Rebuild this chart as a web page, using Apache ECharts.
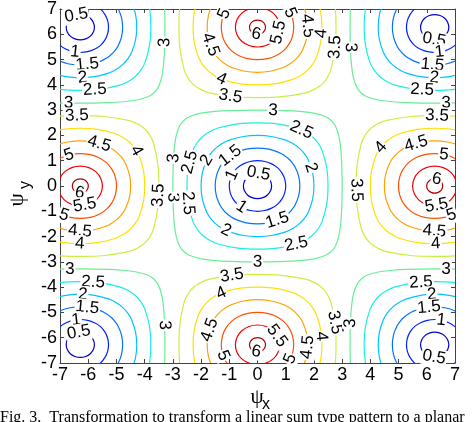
<!DOCTYPE html>
<html>
<head>
<meta charset="utf-8">
<script src="https://cdn.jsdelivr.net/npm/echarts@6/dist/echarts.min.js"></script>
<style>
  html, body { margin: 0; padding: 0; background: #fff; }
  #chart { width: 474px; height: 422px; }
</style>
</head>
<body>
<div id="chart"></div>
<script>
// contour levels and their (jet) line colours
const levels = [0.5, 1, 1.5, 2, 2.5, 3, 3.5, 4, 4.5, 5, 5.5, 6];
const levelColors = ['#0000d0', '#0024ff', '#0074ff', '#00c4ff', '#17f0e0', '#69ee96',
  '#c8f040', '#ffe000', '#ffa200', '#ff5100', '#f00000', '#ad0000'];

// minima (circled by levels 0.5 - 3) and maxima (circled by levels 3.5 - 6)
const lowCentres = [[0, 0], [-6.28, 6.28], [6.28, 6.28], [-6.28, -6.28], [6.28, -6.28]];
const highCentres = [[0, 6.28], [0, -6.28], [-6.28, 0], [6.28, 0]];

// one eighth of every loop, from its axis crossing to the diagonal, relative to its centre
const arc05 = [[0.5, 0], [0.462, 0.191], [0.354, 0.354]];
const arc10 = [[1, 0], [0.968, 0.26], [0.875, 0.5], [0.717, 0.717]];
const arc15 = [[1.5, 0], [1.456, 0.4], [1.332, 0.75], [1.209, 0.95], [1.089, 1.089]];
const arc20 = [[2, 0], [1.958, 0.5], [1.815, 1.0], [1.683, 1.25], [1.49, 1.49]];
const arc25 = [[2.5, 0], [2.457, 0.7], [2.292, 1.4], [2.145, 1.7], [1.949, 1.949]];
const arc30 = [[3, 0], [2.98, 1.0], [2.948, 1.5], [2.879, 2.0], [2.749, 2.4], [2.603, 2.603]];
const arc35 = [[2.783, 0], [2.748, 0.85], [2.595, 1.7], [2.469, 2.0], [2.334, 2.2], [2.27, 2.27]];
const arc40 = [[2.283, 0], [2.24, 0.6], [2.085, 1.2], [1.932, 1.5], [1.739, 1.739]];
const arc45 = [[1.783, 0], [1.741, 0.45], [1.597, 0.9], [1.485, 1.1], [1.312, 1.312]];
const arc50 = [[1.283, 0], [1.241, 0.35], [1.127, 0.65], [0.925, 0.925]];
const arc55 = [[0.783, 0], [0.725, 0.3], [0.557, 0.557]];
const arc60 = [[0.283, 0], [0.262, 0.108], [0.2, 0.2]];
const arcsByLevel = [arc05, arc10, arc15, arc20, arc25, arc30, arc35, arc40, arc45, arc50, arc55, arc60];

// contour labels: [psi_x, psi_y, level]
const labelSpots = [
  [-6.4, 6.6, 0.5], [-6.47, 5.28, 1], [-6.04, 4.85, 1.5], [-6.2, 4.25, 2], [-5.76, 3.7, 2.5],
  [-6.7, 3.27, 3], [-6.4, 2.8, 3.5], [-5.65, 1.52, 4.5], [-4.4, 1.33, 4], [-6.65, 1.13, 5],
  [-6.3, -0.25, 6], [-6.1, -0.9, 5.5], [-6.9, -1.28, 5], [-6.3, -1.87, 4.5], [-6.3, -2.27, 4],
  [-6.65, -3.25, 3], [-5.83, -3.93, 2.5], [-6.2, -4.4, 2], [-6.04, -4.9, 1.5], [-6.43, -5.3, 1],
  [-6.3, -6.0, 0.5], [-3.28, -5.5, 3], [-0.9, -3.6, 3.5], [-1.26, -4.3, 4], [-1.68, -5.7, 4.5],
  [-1.33, -6.76, 5], [-1.05, 6.75, 5], [-0.05, 5.95, 6], [0.76, 6.07, 5.5], [1.05, 6.8, 5],
  [1.9, 6.35, 4.5], [2.36, 6.03, 4], [2.9, 5.48, 3.5], [3.25, 5.48, 3], [-1.75, 5.56, 4.5],
  [-1.33, 4.1, 4], [-0.97, 3.46, 3.5], [-3.2, 5.68, 3], [6.26, 5.76, 0.5], [6.45, 5.3, 1],
  [6.19, 4.69, 1.5], [6.26, 4.18, 2], [5.83, 3.7, 2.5], [6.68, 3.39, 3], [6.36, 2.71, 3.5],
  [4.49, 1.41, 4], [5.66, 1.52, 4.5], [6.6, 1.2, 5], [6.33, 0.15, 6], [6.33, -0.68, 5.5],
  [0.55, 2.87, 3], [1.5, 2.08, 2.5], [1.8, 0.7, 2], [-0.9, 1.1, 1.5], [-0.87, 0.42, 1],
  [0.02, 0.4, 0.5], [-0.6, -0.88, 1], [0.7, -1.35, 1.5], [-1.15, -1.83, 2], [1.4, -2.42, 2.5],
  [0, -3.0, 3], [-3.0, 1.1, 3], [-2.4, 0.94, 2.5], [-1.68, 0.94, 2], [-3.45, -0.37, 3.5],
  [-3.0, -0.45, 3], [-2.5, -0.68, 2.5], [3.3, -0.17, 3.5], [2.6, -5.43, 3.5], [3.35, -5.43, 3],
  [2.0, -5.97, 4], [1.75, -6.37, 4.5], [1.3, -6.9, 5], [0.48, -6.1, 5.5], [-0.05, -6.6, 6],
  [6.9, -1.23, 5], [6.26, -1.87, 4.5], [6.32, -2.4, 4], [6.68, -3.4, 3], [5.8, -3.92, 2.5],
  [6.19, -4.4, 2], [6.08, -4.83, 1.5], [6.5, -5.43, 1], [6.26, -6.77, 0.5]
];

// mirror an eighth-arc into a whole loop round a centre
function buildLoop(arc, c) {
  const q1 = arc.concat(arc.slice(0, -1).reverse().map(([a, b]) => [b, a]));
  const q2 = q1.slice().reverse().map(([a, b]) => [-a, b]).slice(1);
  const q3 = q1.map(([a, b]) => [-a, -b]).slice(1);
  const q4 = q1.slice().reverse().map(([a, b]) => [a, -b]).slice(1, -1);
  return q1.concat(q2, q3, q4).map(([a, b]) => [a + c[0], b + c[1]]);
}

const loopsByLevel = levels.map((lv, i) => {
  const centres = lv <= 3 ? lowCentres : highCentres;
  return centres.map(c => buildLoop(arcsByLevel[i], c));
});

const chart = echarts.init(document.getElementById('chart'));

const axisFont = { color: '#000', fontSize: 18, fontFamily: 'Liberation Sans, Arial' };
const frame = { show: true, onZero: false, lineStyle: { color: '#444', width: 1 } };
const ticks = { show: true, inside: true, length: 4, lineStyle: { color: '#444' } };

const contourSeries = levels.map((lv, i) => ({
  type: 'custom',
  coordinateSystem: 'cartesian2d',
  clip: true,
  silent: true,
  z: 2,
  data: (lv <= 3 ? lowCentres : highCentres),
  renderItem: (params, api) => {
    const pts = loopsByLevel[i][params.dataIndex].map(p => api.coord(p));
    return {
      type: 'polygon',
      shape: { points: pts, smooth: 0.4 },
      style: { fill: 'none', stroke: levelColors[i], lineWidth: 1.2 }
    };
  }
}));

const labelSeries = {
  type: 'custom',
  coordinateSystem: 'cartesian2d',
  silent: true,
  z: 5,
  data: labelSpots,
  renderItem: (params, api) => {
    const lv = api.value(2);
    const li = levels.indexOf(lv);
    const p = api.coord([api.value(0), api.value(1)]);
    let best = null;
    loopsByLevel[li].forEach(loop => {
      const pts = loop.map(q => api.coord(q));
      for (let k = 0; k < pts.length; k++) {
        const a = pts[k], b = pts[(k + 1) % pts.length];
        const dx = b[0] - a[0], dy = b[1] - a[1];
        const len2 = dx * dx + dy * dy || 1;
        let t = ((p[0] - a[0]) * dx + (p[1] - a[1]) * dy) / len2;
        t = Math.max(0, Math.min(1, t));
        const x = a[0] + t * dx, y = a[1] + t * dy;
        const d = (x - p[0]) ** 2 + (y - p[1]) ** 2;
        if (!best || d < best.d) best = { d, x, y, dx, dy };
      }
    });
    let ang = Math.atan2(-best.dy, best.dx);
    if (ang > Math.PI / 2) ang -= Math.PI;
    if (ang <= -Math.PI / 2) ang += Math.PI;
    return {
      type: 'text',
      x: best.x,
      y: best.y,
      rotation: ang,
      style: {
        text: String(lv),
        font: '17px "Liberation Sans", Arial',
        fill: '#000',
        align: 'center',
        verticalAlign: 'middle',
        backgroundColor: '#fff',
        padding: [0, 1]
      }
    };
  }
};

chart.setOption({
  animation: false,
  backgroundColor: '#fff',
  grid: { left: 60, right: 19, top: 8, bottom: 59 },
  xAxis: [
    { type: 'value', min: -7, max: 7, interval: 1, position: 'bottom',
      axisLine: frame, axisTick: ticks, splitLine: { show: false },
      axisLabel: Object.assign({ margin: 3 }, axisFont) },
    { type: 'value', min: -7, max: 7, interval: 1, position: 'top',
      axisLine: frame, axisTick: ticks, splitLine: { show: false },
      axisLabel: { show: false } }
  ],
  yAxis: [
    { type: 'value', min: -7, max: 7, interval: 1, position: 'left',
      axisLine: frame, axisTick: ticks, splitLine: { show: false },
      axisLabel: Object.assign({ margin: 3 }, axisFont) },
    { type: 'value', min: -7, max: 7, interval: 1, position: 'right',
      axisLine: frame, axisTick: ticks, splitLine: { show: false },
      axisLabel: { show: false } }
  ],
  series: contourSeries.concat([labelSeries]),
  graphic: [
    { type: 'text', x: 257, y: 397, style: { text: 'ψ', font: '21px "Liberation Serif"', fill: '#000', align: 'center', verticalAlign: 'middle' } },
    { type: 'text', x: 266, y: 405, style: { text: 'x', font: '16px "Liberation Sans"', fill: '#000', align: 'center', verticalAlign: 'middle' } },
    { type: 'text', x: 17, y: 200, rotation: Math.PI / 2, style: { text: 'ψ', font: '21px "Liberation Serif"', fill: '#000', align: 'center', verticalAlign: 'middle' } },
    { type: 'text', x: 26, y: 185, rotation: Math.PI / 2, style: { text: 'y', font: '16px "Liberation Sans"', fill: '#000', align: 'center', verticalAlign: 'middle' } },
    { type: 'text', x: 0, y: 410, style: { text: 'Fig. 3.  Transformation to transform a linear sum type pattern to a planar', font: '16px "Liberation Serif"', fill: '#000' } }
  ]
});
</script>
</body>
</html>
